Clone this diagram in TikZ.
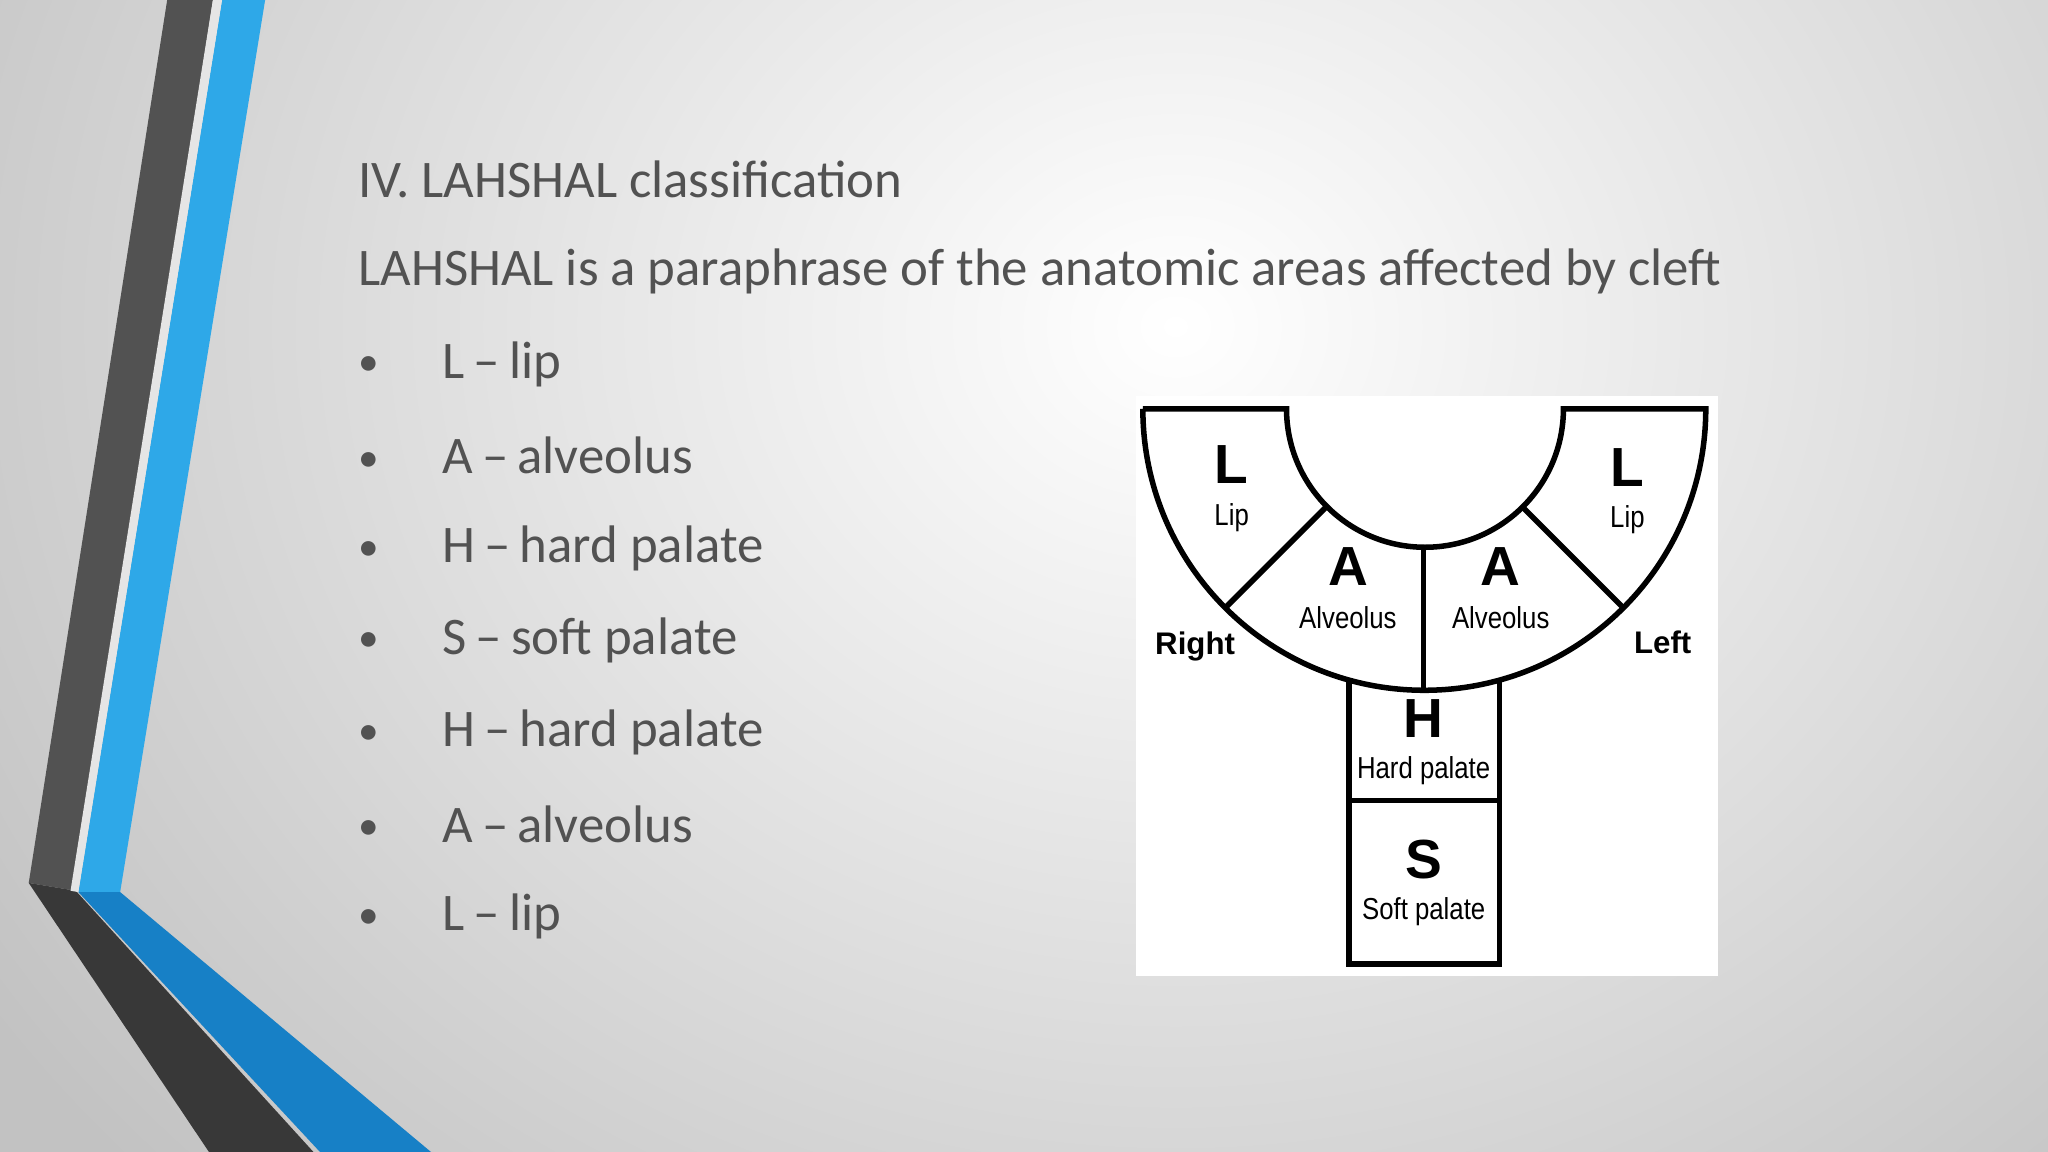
\documentclass[tikz,border=0pt]{standalone}
\usepackage{fontspec}
\usetikzlibrary{calc}
\setmainfont{Carlito}
\newfontfamily\arialf{Liberation Sans}
\definecolor{blueup}{HTML}{2EA8E8}
\definecolor{bluelo}{HTML}{1780C6}
\begin{document}
\begin{tikzpicture}[x=0.01cm,y=-0.01cm,
  body/.style={anchor=west,text=black!68,font=\fontsize{11.5}{13}\selectfont},
  big/.style={font=\arialf\bfseries\fontsize{12}{12}\selectfont},
  small/.style={font=\arialf\fontsize{6.6}{7}\selectfont,xscale=0.85},
  side/.style={font=\arialf\bfseries\fontsize{6.8}{7}\selectfont},
  ln/.style={line width=1.2pt,black}]
\useasboundingbox (0,0) rectangle (1568,882);
\fill[white] (0,0) rectangle (1568,882);
\shade[inner color=white,outer color=black!24,shading=radial] (-200,-700) rectangle (2000,1200);
% left decoration
\fill[black!68] (128,0) -- (163,0) -- (58,682) -- (22,676) -- cycle;
\fill[black!78] (22,676) -- (58,682) -- (240,882) -- (160,882) -- cycle;
\fill[blueup] (170,0) -- (203,0) -- (92,683) -- (60,683) -- cycle;
\fill[bluelo] (60,683) -- (92,683) -- (330,882) -- (245,882) -- cycle;
\fill[white!90!black] (163,0) -- (170,0) -- (60,683) -- (54,682) -- cycle;
% text
\node[body] (t1) at (262,137) {IV. LAHSHAL classification};
\node[body] (t2) at (262,208) {LAHSHAL is a paraphrase of the anatomic areas affected by cleft};
\foreach \y/\t [count=\i] in {279/L\,--\,lip,349/A\,--\,alveolus,420/H\,--\,hard palate,490/S\,--\,soft palate,561/H\,--\,hard palate,631/A\,--\,alveolus,702/L\,--\,lip}{
  \node[body] (b\i) at (262,\y) {\makebox[1.6em][l]{\raisebox{0.1ex}{\small\textbullet}}\t};
}
% diagram
\fill[white] (870,303) rectangle (1315,747);
\draw[ln] (875,313) -- (985,313) arc (180:0:106) -- (1306,313) arc (0:180:215.5);
\draw[ln] (1090,419) -- (1090,528);
\draw[ln] ($(1090.5,313)+(135:106)$) -- ($(1090.5,313)+(135:215.5)$);
\draw[ln] ($(1090.5,313)+(45:106)$) -- ($(1090.5,313)+(45:215.5)$);
\draw[ln] (1033,520) -- (1033,738) -- (1148,738) -- (1148,520);
\draw[ln] (1033,613) -- (1148,613);
\node[big] (l1) at (943,356) {L};
\node[small] (l1s) at (943,396) {Lip};
\node[big] (l2) at (1246,358) {L};
\node[small] (l2s) at (1246,398) {Lip};
\node[big] (a1) at (1032,434) {A};
\node[small] (a1s) at (1032,473) {Alveolus};
\node[big] (a2) at (1149,434) {A};
\node[small] (a2s) at (1149,473) {Alveolus};
\node[big] (h) at (1090,550) {H};
\node[small] (hs) at (1090,590) {Hard palate};
\node[big] (s) at (1090,658) {S};
\node[small] (ss) at (1090,698) {Soft palate};
\node[side] (r) at (915,495) {Right};
\node[side] (lf) at (1273,492) {Left};
\end{tikzpicture}
\end{document}
